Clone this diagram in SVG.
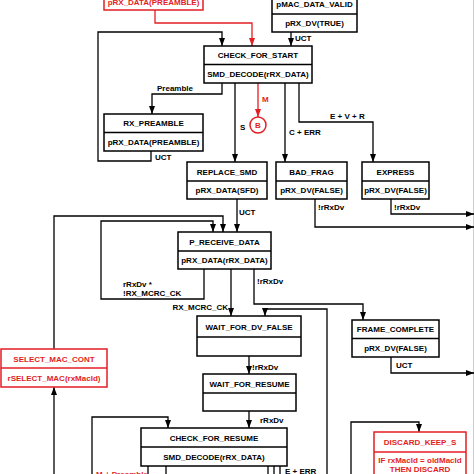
<svg xmlns="http://www.w3.org/2000/svg" width="474" height="474" viewBox="0 0 474 474">
<style>
.box{fill:#fff;stroke:#000;stroke-width:1.5}
.rbox{fill:#fff;stroke:#e31e24;stroke-width:1.5}
.dv{stroke:#000;stroke-width:1.3}
.rdv{stroke:#e31e24;stroke-width:1.3}
text{font-family:"Liberation Sans",Arial,sans-serif;font-weight:bold;font-size:8px}
.t{text-anchor:middle;fill:#000}
.rt{text-anchor:middle;fill:#e31e24}
.l{fill:#000}
.rl{fill:#e31e24}
.w{fill:none;stroke:#000;stroke-width:1.3}
.rw{fill:none;stroke:#e31e24;stroke-width:1.3}
</style>
<defs>
<marker id="ah" markerWidth="8" markerHeight="6" refX="8" refY="3" orient="auto" markerUnits="userSpaceOnUse"><path d="M0,0 L8,3 L0,6 z" fill="#000"/></marker>
<marker id="rah" markerWidth="8" markerHeight="6" refX="8" refY="3" orient="auto" markerUnits="userSpaceOnUse"><path d="M0,0 L8,3 L0,6 z" fill="#e31e24"/></marker>
</defs>
<rect width="474" height="474" fill="#fff"/>
<line x1="473.5" y1="0" x2="473.5" y2="474" stroke="#ccc" stroke-width="1"/>

<g id="connectors">
<path class="w" d="M291,32 V46" marker-end="url(#ah)"/>
<path class="rw" d="M155,10 V23 H252 V46" marker-end="url(#rah)"/>
<path class="w" d="M151,151 V161 H98 V32 H222 V46" marker-end="url(#ah)"/>
<path class="w" d="M222,83 V94 H152 V114" marker-end="url(#ah)"/>
<path class="w" d="M235,83 V162" marker-end="url(#ah)"/>
<path class="rw" d="M258,83 V117" marker-end="url(#rah)"/>
<path class="w" d="M285,83 V162" marker-end="url(#ah)"/>
<path class="w" d="M299,83 V122 H373 V162" marker-end="url(#ah)"/>
<path class="w" d="M315,199 V227 H474" marker-end="url(#ah)"/>
<path class="w" d="M391,199 V214 H474" marker-end="url(#ah)"/>
<path class="w" d="M237,199 V232" marker-end="url(#ah)"/>
<path class="w" d="M54,349 V216 H223 V232" marker-end="url(#ah)"/>
<path class="w" d="M204,269 V299 H101 V221 H213 V232" marker-end="url(#ah)"/>
<path class="w" d="M231,269 V316" marker-end="url(#ah)"/>
<path class="w" d="M254,269 V304 H363 V320" marker-end="url(#ah)"/>
<path class="w" d="M327,474 V309 H265 V316" marker-end="url(#ah)"/>
<path class="w" d="M249,356 V374" marker-end="url(#ah)"/>
<path class="w" d="M249,411 V428" marker-end="url(#ah)"/>
<path class="w" d="M391,357 V373 H474" marker-end="url(#ah)"/>
<path class="w" d="M92,474 V417 H168 V428" marker-end="url(#ah)"/>
<path class="w" d="M54,474 V387" marker-end="url(#ah)"/>
<path class="w" d="M351,474 V422 H419 V432" marker-end="url(#ah)"/>
<path class="w" d="M148,466 V474 M166,466 V474 M268,466 V474 M274,466 V474 M280,466 V474"/>
<text class="l" x="295" y="41">UCT</text>
<text class="l" x="155" y="160">UCT</text>
<text class="l" x="157" y="91">Preamble</text>
<text class="l" x="240" y="130">S</text>
<text class="rl" x="262" y="102">M</text>
<text class="l" x="289" y="135">C + ERR</text>
<text class="l" x="330" y="119">E + V + R</text>
<text class="l" x="318" y="210">!rRxDv</text>
<text class="l" x="394" y="210">!rRxDv</text>
<text class="l" x="239" y="215">UCT</text>
<text class="l" x="123" y="287">rRxDv *</text>
<text class="l" x="123" y="296">!RX_MCRC_CK</text>
<text class="l" x="228" y="310" text-anchor="end">RX_MCRC_CK</text>
<text class="l" x="257" y="284">!rRxDv</text>
<text class="l" x="252" y="370">!rRxDv</text>
<text class="l" x="260" y="423">rRxDv</text>
<text class="l" x="396" y="368">UCT</text>
<text class="rl" x="96" y="477">M + Preamble</text>
<text class="l" x="285" y="474">E + ERR</text>
</g>

<g id="pRX_DATA_PREAMBLE_top">
<rect class="rbox" x="104" y="-10" width="99" height="20"/>
<text class="rt" x="153.5" y="4.5">pRX_DATA(PREAMBLE)</text>
</g>

<g id="pMAC_DATA_VALID">
<rect class="box" x="272" y="-6" width="85" height="38"/>
<line class="dv" x1="272" y1="14" x2="357" y2="14"/>
<text class="t" x="314.5" y="7">pMAC_DATA_VALID</text>
<text class="t" x="314.5" y="26">pRX_DV(TRUE)</text>
</g>

<g id="CHECK_FOR_START">
<rect class="box" x="204" y="46" width="108" height="37"/>
<line class="dv" x1="204" y1="64.5" x2="312" y2="64.5"/>
<text class="t" x="258" y="58">CHECK_FOR_START</text>
<text class="t" x="258" y="76.5">SMD_DECODE(rRX_DATA)</text>
</g>

<g id="RX_PREAMBLE">
<rect class="box" x="104" y="114" width="99" height="37"/>
<line class="dv" x1="104" y1="132.5" x2="203" y2="132.5"/>
<text class="t" x="153.5" y="126">RX_PREAMBLE</text>
<text class="t" x="153.5" y="144.5">pRX_DATA(PREAMBLE)</text>
</g>

<g id="B">
<circle cx="258" cy="125" r="8" fill="#fff" stroke="#e31e24" stroke-width="1.5"/>
<text class="rt" x="258" y="128">B</text>
</g>

<g id="REPLACE_SMD">
<rect class="box" x="187" y="162" width="80" height="37"/>
<line class="dv" x1="187" y1="181" x2="267" y2="181"/>
<text class="t" x="227" y="174.5">REPLACE_SMD</text>
<text class="t" x="227" y="193">pRX_DATA(SFD)</text>
</g>

<g id="BAD_FRAG">
<rect class="box" x="276" y="162" width="71" height="37"/>
<line class="dv" x1="276" y1="181" x2="347" y2="181"/>
<text class="t" x="311.5" y="174.5">BAD_FRAG</text>
<text class="t" x="311.5" y="193">pRX_DV(FALSE)</text>
</g>

<g id="EXPRESS">
<rect class="box" x="362" y="162" width="67" height="37"/>
<line class="dv" x1="362" y1="181" x2="429" y2="181"/>
<text class="t" x="395.5" y="174.5">EXPRESS</text>
<text class="t" x="395.5" y="193">pRX_DV(FALSE)</text>
</g>

<g id="P_RECEIVE_DATA">
<rect class="box" x="178" y="232" width="93" height="37"/>
<line class="dv" x1="178" y1="251" x2="271" y2="251"/>
<text class="t" x="224.5" y="244.5">P_RECEIVE_DATA</text>
<text class="t" x="224.5" y="263">pRX_DATA(rRX_DATA)</text>
</g>

<g id="WAIT_FOR_DV_FALSE">
<rect class="box" x="197" y="316" width="104" height="40"/>
<line class="dv" x1="197" y1="337" x2="301" y2="337"/>
<text class="t" x="249" y="329.5">WAIT_FOR_DV_FALSE</text>
</g>

<g id="FRAME_COMPLETE">
<rect class="box" x="352" y="320" width="87" height="37"/>
<line class="dv" x1="352" y1="338.5" x2="439" y2="338.5"/>
<text class="t" x="395.5" y="332">FRAME_COMPLETE</text>
<text class="t" x="395.5" y="350.5">pRX_DV(FALSE)</text>
</g>

<g id="SELECT_MAC_CONT">
<rect class="rbox" x="1" y="349" width="106" height="38"/>
<line class="rdv" x1="1" y1="368" x2="107" y2="368"/>
<text class="rt" x="54" y="361.5">SELECT_MAC_CONT</text>
<text class="rt" x="54" y="380.5">rSELECT_MAC(rxMacId)</text>
</g>

<g id="WAIT_FOR_RESUME">
<rect class="box" x="203" y="374" width="93" height="37"/>
<line class="dv" x1="203" y1="393" x2="296" y2="393"/>
<text class="t" x="249.5" y="386.5">WAIT_FOR_RESUME</text>
</g>

<g id="CHECK_FOR_RESUME">
<rect class="box" x="141" y="428" width="146" height="38"/>
<line class="dv" x1="141" y1="447" x2="287" y2="447"/>
<text class="t" x="214" y="440.5">CHECK_FOR_RESUME</text>
<text class="t" x="214" y="459.5">SMD_DECODE(rRX_DATA)</text>
</g>

<g id="DISCARD_KEEP_S">
<rect class="rbox" x="374" y="432" width="92" height="50"/>
<line class="rdv" x1="374" y1="452" x2="466" y2="452"/>
<text class="rt" x="420" y="445">DISCARD_KEEP_S</text>
<text class="rt" x="420" y="463">IF rxMacId = oldMacId</text>
<text class="rt" x="420" y="472">THEN DISCARD</text>
</g>
</svg>
